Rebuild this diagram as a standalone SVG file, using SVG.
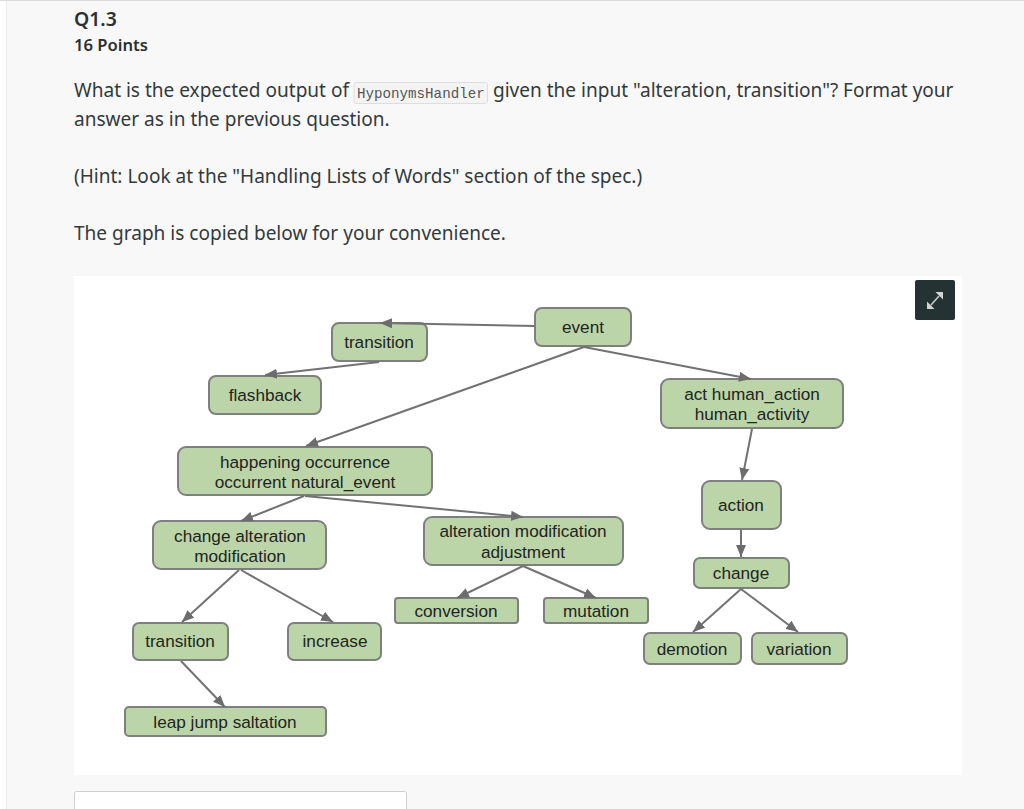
<svg xmlns="http://www.w3.org/2000/svg" width="1024" height="809" viewBox="0 0 1024 809">
<defs>
<style>
.page{font-family:"Noto Sans","Open Sans",sans-serif;fill:#333a3c;font-size:19.05px}
.b{font-weight:600;fill:#2a3032}
.n rect{fill:#bbd5a9;stroke:#7f7f7f;stroke-width:2}
.n text{font-family:"Liberation Sans",Arial,sans-serif;font-size:17.2px;fill:#1f2420;text-anchor:middle}
.c line{stroke:#727272;stroke-width:2;marker-end:url(#a)}
</style>
<marker id="a" markerUnits="userSpaceOnUse" markerWidth="13" markerHeight="11" refX="12" refY="5.500" orient="auto"><path d="M0 .5L12 5.500L0 10.500Z" fill="#6c6c6c"/></marker>
</defs>
<rect width="1024" height="809" fill="#fff"/>
<rect x="6" y="1" width="1018" height="808" fill="#f8f8f8"/>
<rect x="0" y="0" width="1024" height="1" fill="#dcdcdc"/>
<rect x="6" y="1" width="1" height="808" fill="#ececec"/>
<g class="page">
<text x="74" y="26" class="b" style="font-size:19.4px">Q1.3</text>
<text x="74" y="51" class="b" style="font-size:16.6px">16 Points</text>
<text x="74" y="97">What is the expected output of</text>
<rect x="354" y="82.500" width="133.500" height="21" rx="2" fill="#f4f4f4" stroke="#dedede"/>
<text x="357" y="98" style="font-family:'Liberation Mono','DejaVu Sans Mono',monospace;font-size:14.200px;fill:#555">HyponymsHandler</text>
<text x="493" y="97">given the input "alteration, transition"? Format your</text>
<text x="74" y="125.500">answer as in the previous question.</text>
<text x="74" y="183">(Hint: Look at the "Handling Lists of Words" section of the spec.)</text>
<text x="74" y="240">The graph is copied below for your convenience.</text>
</g>
<rect x="74" y="276" width="888" height="499" fill="#fff"/>
<rect x="74.500" y="791.500" width="332" height="30" rx="2" fill="#fff" stroke="#cfcfcf"/>
<g id="expand">
<rect x="915" y="280" width="40" height="40" rx="2" fill="#243233"/>
<path d="M935.500 292L943 292L943 299.500ZM927 301.500L934.500 309L927 309Z" fill="#d0d4d4"/>
<path d="M931 305L939 296" stroke="#c4caca" stroke-width="1.600" fill="none"/>
</g>
<g class="n" id="n-event"><rect x="535" y="308" width="96" height="38" rx="7"/><text x="583" y="333">event</text></g>
<g class="n" id="n-transition1"><rect x="332" y="323" width="95" height="38" rx="7"/><text x="379" y="348">transition</text></g>
<g class="n" id="n-flashback"><rect x="209" y="376" width="112" height="38" rx="7"/><text x="265" y="401">flashback</text></g>
<g class="n" id="n-act"><rect x="661" y="379" width="182" height="49" rx="8"/><text x="752" y="400">act human_action</text><text x="752" y="420">human_activity</text></g>
<g class="n" id="n-happening"><rect x="178" y="447" width="254" height="48" rx="8"/><text x="305" y="468">happening occurrence</text><text x="305" y="488">occurrent natural_event</text></g>
<g class="n" id="n-action"><rect x="702" y="481" width="79" height="48" rx="8"/><text x="741" y="511">action</text></g>
<g class="n" id="n-alteration"><rect x="424" y="517" width="199" height="48" rx="8"/><text x="523" y="537">alteration modification</text><text x="523" y="558">adjustment</text></g>
<g class="n" id="n-change1"><rect x="153" y="521" width="173" height="48" rx="8"/><text x="240" y="542">change alteration</text><text x="240" y="562">modification</text></g>
<g class="n" id="n-change2"><rect x="694" y="558" width="95" height="30" rx="6"/><text x="741" y="579">change</text></g>
<g class="n" id="n-conversion"><rect x="395" y="598" width="123" height="25" rx="3"/><text x="456" y="617">conversion</text></g>
<g class="n" id="n-mutation"><rect x="544" y="598" width="104" height="25" rx="3"/><text x="596" y="617">mutation</text></g>
<g class="n" id="n-transition2"><rect x="133" y="623" width="95" height="37" rx="6"/><text x="180" y="647">transition</text></g>
<g class="n" id="n-increase"><rect x="288" y="623" width="93" height="37" rx="6"/><text x="335" y="647">increase</text></g>
<g class="n" id="n-demotion"><rect x="644" y="633" width="97" height="31" rx="6"/><text x="692" y="655">demotion</text></g>
<g class="n" id="n-variation"><rect x="752" y="633" width="95" height="31" rx="6"/><text x="799" y="655">variation</text></g>
<g class="n" id="n-leap"><rect x="125" y="707" width="201" height="29" rx="4"/><text x="225" y="728">leap jump saltation</text></g>
<g class="c" id="connectors">
<line x1="535" y1="326" x2="380" y2="323"/>
<line x1="379" y1="362" x2="265" y2="375"/>
<line x1="584" y1="347" x2="306" y2="446"/>
<line x1="584" y1="347" x2="751" y2="379"/>
<line x1="752" y1="429" x2="742" y2="480"/>
<line x1="305" y1="496" x2="523" y2="517"/>
<line x1="304" y1="496" x2="241" y2="521"/>
<line x1="741" y1="530" x2="741" y2="557"/>
<line x1="523" y1="566" x2="457" y2="598"/>
<line x1="523" y1="566" x2="596" y2="598"/>
<line x1="741" y1="589" x2="693" y2="632"/>
<line x1="741" y1="589" x2="798" y2="632"/>
<line x1="239" y1="570" x2="182" y2="622"/>
<line x1="241" y1="570" x2="333" y2="622"/>
<line x1="181" y1="661" x2="225" y2="707"/>
</g>
</svg>
